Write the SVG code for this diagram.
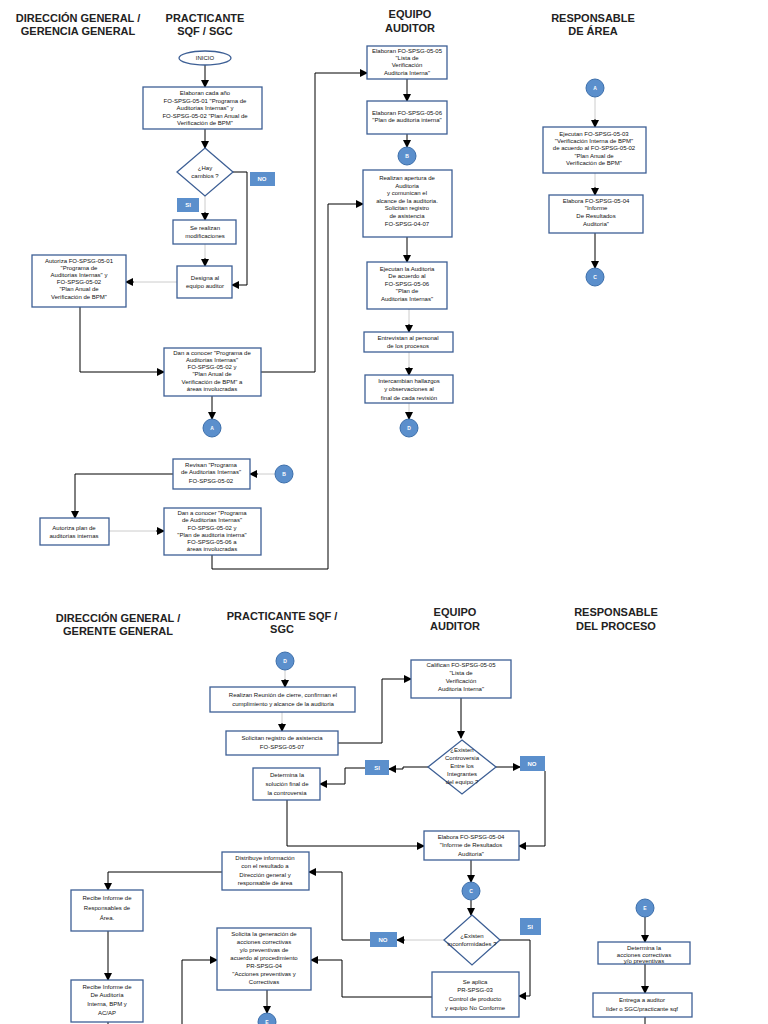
<svg xmlns="http://www.w3.org/2000/svg" width="768" height="1024" viewBox="0 0 768 1024">
<style>
.h{font-family:"Liberation Sans",Arial,sans-serif;font-weight:bold;font-size:11px;fill:#222;text-anchor:middle}
.t{font-family:"Liberation Sans",Arial,sans-serif;font-size:6px;fill:#111;text-anchor:middle}
.b{fill:#fff;stroke:#3d5f95;stroke-width:1.3}
.c{fill:#5b8fcc;stroke:#3d6fab;stroke-width:1}
.l{fill:#5b8fcc}
.lt{font-family:"Liberation Sans",Arial,sans-serif;font-weight:bold;font-size:6px;fill:#fff;text-anchor:middle}
.ct{font-family:"Liberation Sans",Arial,sans-serif;font-weight:bold;font-size:5px;fill:#fff;text-anchor:middle}
.k{fill:none;stroke:#000;stroke-width:1}
.g{fill:none;stroke:#ccc;stroke-width:1}
</style>
<defs><marker id="a" markerWidth="8" markerHeight="8" refX="7" refY="4" orient="auto" markerUnits="userSpaceOnUse"><path d="M0,0L8,4L0,8z" fill="#000"/></marker></defs>
<g id="headers">
<text class="h" x="78" y="22">DIRECCIÓN GENERAL /</text><text class="h" x="78" y="35">GERENCIA GENERAL</text>
<text class="h" x="205" y="22">PRACTICANTE</text><text class="h" x="205" y="35">SQF / SGC</text>
<text class="h" x="410" y="18">EQUIPO</text><text class="h" x="410" y="32">AUDITOR</text>
<text class="h" x="593" y="22">RESPONSABLE</text><text class="h" x="593" y="35">DE ÁREA</text>
<text class="h" x="118" y="622">DIRECCIÓN GENERAL /</text><text class="h" x="118" y="635">GERENTE GENERAL</text>
<text class="h" x="282" y="620">PRACTICANTE SQF /</text><text class="h" x="282" y="633">SGC</text>
<text class="h" x="455" y="616">EQUIPO</text><text class="h" x="455" y="630">AUDITOR</text>
<text class="h" x="616" y="616">RESPONSABLE</text><text class="h" x="616" y="630">DEL PROCESO</text>
</g>
<g id="connectors">
<path class="k" d="M205,65V87" marker-end="url(#a)"/>
<path class="k" d="M205,129V148" marker-end="url(#a)"/>
<path class="k" d="M233,172H247V285H232" marker-end="url(#a)"/>
<path class="g" d="M205,196V220"/><path class="k" d="M205,212V220" marker-end="url(#a)"/>
<path class="g" d="M205,244V266"/><path class="k" d="M205,258V266" marker-end="url(#a)"/>
<path class="g" d="M177,282H134"/><path class="k" d="M134,282H126" marker-end="url(#a)"/>
<path class="k" d="M80,307V372H164" marker-end="url(#a)"/>
<path class="k" d="M212,396V419" marker-end="url(#a)"/>
<path class="k" d="M261,372H315V73H367" marker-end="url(#a)"/>
<path class="k" d="M407,79V101" marker-end="url(#a)"/>
<path class="k" d="M407,134V147" marker-end="url(#a)"/>
<path class="k" d="M212,555V569H328V204H363" marker-end="url(#a)"/>
<path class="k" d="M407,237V262" marker-end="url(#a)"/>
<path class="g" d="M409,309V332"/><path class="k" d="M409,324V332" marker-end="url(#a)"/>
<path class="g" d="M409,352V375"/><path class="k" d="M409,367V375" marker-end="url(#a)"/>
<path class="g" d="M409,403V419"/><path class="k" d="M409,412V419" marker-end="url(#a)"/>
<path class="g" d="M275,474H258"/><path class="k" d="M258,474H250" marker-end="url(#a)"/>
<path class="k" d="M173,474H75V518" marker-end="url(#a)"/>
<path class="g" d="M109,531H156"/><path class="k" d="M156,531H164" marker-end="url(#a)"/>
<path class="g" d="M595,97V127"/><path class="k" d="M595,119V127" marker-end="url(#a)"/>
<path class="g" d="M595,173V195"/><path class="k" d="M595,187V195" marker-end="url(#a)"/>
<path class="k" d="M595,233V268" marker-end="url(#a)"/>
<path class="g" d="M285,670V687"/><path class="k" d="M285,679V687" marker-end="url(#a)"/>
<path class="g" d="M282,712V731"/><path class="k" d="M282,723V731" marker-end="url(#a)"/>
<path class="k" d="M338,743H382V679H411" marker-end="url(#a)"/>
<path class="k" d="M461,698V738" marker-end="url(#a)"/>
<path class="k" d="M428,767H403V769H389" marker-end="url(#a)"/>
<path class="k" d="M365,768H345V784H320" marker-end="url(#a)"/>
<path class="k" d="M496,767H520" marker-end="url(#a)"/>
<path class="k" d="M287,800V846H424" marker-end="url(#a)"/>
<path class="k" d="M545,771V846H519" marker-end="url(#a)"/>
<path class="k" d="M471,860V882" marker-end="url(#a)"/>
<path class="k" d="M471,900V915" marker-end="url(#a)"/>
<path class="g" d="M444,940H405"/><path class="k" d="M405,940H397" marker-end="url(#a)"/>
<path class="k" d="M370,940H342V872H309" marker-end="url(#a)"/>
<path class="k" d="M222,872H108V890" marker-end="url(#a)"/>
<path class="k" d="M500,940H530V996H519" marker-end="url(#a)"/>
<path class="k" d="M432,997H342V960H311" marker-end="url(#a)"/>
<path class="k" d="M108,931V980" marker-end="url(#a)"/>
<path class="k" d="M108,1022V1024"/>
<path class="k" d="M182,1024V960H217" marker-end="url(#a)"/>
<path class="k" d="M267,990V1013" marker-end="url(#a)"/>
<path class="k" d="M645,917V942" marker-end="url(#a)"/>
<path class="k" d="M645,964V993" marker-end="url(#a)"/>
<path class="k" d="M645,1017V1024"/>
</g>
<g id="inicio"><ellipse cx="205" cy="58" rx="26" ry="7" class="b"/><text class="t" x="205" y="60">INICIO</text></g>
<g id="n1"><rect class="b" x="143" y="87" width="119" height="42"/><text class="t" x="205" y="95">Elaboran cada año</text><text class="t" x="205" y="103">FO-SPSG-05-01 "Programa de</text><text class="t" x="205" y="110">Auditorias Internas" y</text><text class="t" x="205" y="118">FO-SPSG-05-02 "Plan Anual de</text><text class="t" x="205" y="125">Verificación de BPM"</text></g>
<g id="d1"><path class="b" d="M205,148L233,172L205,196L177,172z"/><text class="t" x="205" y="170">¿Hay</text><text class="t" x="205" y="178">cambios ?</text></g>
<g id="no1"><rect class="l" x="250" y="172" width="25" height="14"/><text class="lt" x="262" y="181">NO</text></g>
<g id="si1"><rect class="l" x="177" y="198" width="22" height="14"/><text class="lt" x="188" y="207">SI</text></g>
<g id="n2"><rect class="b" x="173" y="220" width="63" height="24"/><text class="t" x="205" y="230">Se realizan</text><text class="t" x="205" y="238">modificaciones</text></g>
<g id="n3"><rect class="b" x="177" y="266" width="55" height="32"/><text class="t" x="205" y="280">Designa al</text><text class="t" x="205" y="288">equipo auditor</text></g>
<g id="n4"><rect class="b" x="32" y="255" width="94" height="52"/><text class="t" x="79" y="263">Autoriza FO-SPSG-05-01</text><text class="t" x="79" y="270">"Programa de</text><text class="t" x="79" y="277">Auditorias Internas"  y</text><text class="t" x="79" y="284">FO-SPSG-05-02</text><text class="t" x="79" y="291">"Plan Anual de</text><text class="t" x="79" y="299">Verificación de BPM"</text></g>
<g id="n5"><rect class="b" x="164" y="348" width="97" height="48"/><text class="t" x="212" y="355">Dan a conocer "Programa de</text><text class="t" x="212" y="362">Auditorias Internas"</text><text class="t" x="212" y="369">FO-SPSG-05-02 y</text><text class="t" x="212" y="376">"Plan Anual de</text><text class="t" x="212" y="384">Verificación de BPM" a</text><text class="t" x="212" y="391">áreas involucradas</text></g>
<g id="ca1"><circle class="c" cx="212" cy="428" r="9"/><text class="ct" x="212" y="430">A</text></g>
<g id="n6"><rect class="b" x="173" y="459" width="77" height="30"/><text class="t" x="211" y="467">Revisan "Programa</text><text class="t" x="211" y="474">de Auditorias Internas"</text><text class="t" x="211" y="483">FO-SPSG-05-02</text></g>
<g id="cb2"><circle class="c" cx="284" cy="474" r="9"/><text class="ct" x="284" y="476">B</text></g>
<g id="n7"><rect class="b" x="40" y="518" width="69" height="27"/><text class="t" x="74" y="530">Autoriza plan de</text><text class="t" x="74" y="538">auditorias internas</text></g>
<g id="n8"><rect class="b" x="164" y="508" width="97" height="47"/><text class="t" x="212" y="515">Dan a conocer "Programa</text><text class="t" x="212" y="522">de Auditorias Internas"</text><text class="t" x="212" y="530">FO-SPSG-05-02 y</text><text class="t" x="212" y="537">"Plan de auditoria interna"</text><text class="t" x="212" y="544">FO-SPSG-05-06 a</text><text class="t" x="212" y="551">áreas involucradas</text></g>
<g id="e1"><rect class="b" x="367" y="46" width="80" height="33"/><text class="t" x="407" y="53">Elaboran FO-SPSG-05-05</text><text class="t" x="407" y="60">"Lista de</text><text class="t" x="407" y="67">Verificación</text><text class="t" x="407" y="75">Auditoria Interna"</text></g>
<g id="e2"><rect class="b" x="367" y="101" width="80" height="33"/><text class="t" x="407" y="115">Elaboran FO-SPSG-05-06</text><text class="t" x="407" y="122">"Plan de auditoria interna"</text></g>
<g id="cb1"><circle class="c" cx="407" cy="156" r="9"/><text class="ct" x="407" y="158">B</text></g>
<g id="e3"><rect class="b" x="363" y="170" width="89" height="67"/><text class="t" x="407" y="180">Realizan apertura de</text><text class="t" x="407" y="188">Auditoria</text><text class="t" x="407" y="195">y comunican el</text><text class="t" x="407" y="203">alcance de la auditoria.</text><text class="t" x="407" y="210">Solicitan registro</text><text class="t" x="407" y="218">de asistencia</text><text class="t" x="407" y="226">FO-SPSG-04-07</text></g>
<g id="e4"><rect class="b" x="367" y="262" width="80" height="47"/><text class="t" x="407" y="271">Ejecutan la Auditoria</text><text class="t" x="407" y="278">De acuerdo al</text><text class="t" x="407" y="286">FO-SPSG-05-06</text><text class="t" x="407" y="293">"Plan de</text><text class="t" x="407" y="301">Auditorias Internas"</text></g>
<g id="e5"><rect class="b" x="364" y="332" width="89" height="20"/><text class="t" x="408" y="340">Entrevistan al personal</text><text class="t" x="408" y="348">de los procesos</text></g>
<g id="e6"><rect class="b" x="365" y="375" width="88" height="28"/><text class="t" x="409" y="383">Intercambian hallazgos</text><text class="t" x="409" y="391">y observaciones al</text><text class="t" x="409" y="400">final de cada revisión</text></g>
<g id="cd1"><circle class="c" cx="409" cy="428" r="9"/><text class="ct" x="409" y="430">D</text></g>
<g id="ca2"><circle class="c" cx="595" cy="88" r="9"/><text class="ct" x="595" y="90">A</text></g>
<g id="r1"><rect class="b" x="543" y="127" width="103" height="46"/><text class="t" x="594" y="136">Ejecutan FO-SPSG-05-03</text><text class="t" x="594" y="143">"Verificación Interna de BPM"</text><text class="t" x="594" y="150">de acuerdo al FO-SPSG-05-02</text><text class="t" x="594" y="158">"Plan Anual de</text><text class="t" x="594" y="165">Verificación de BPM"</text></g>
<g id="r2"><rect class="b" x="549" y="195" width="94" height="38"/><text class="t" x="596" y="203">Elabora FO-SPSG-05-04</text><text class="t" x="596" y="210">"Informe</text><text class="t" x="596" y="218">De Resultados</text><text class="t" x="596" y="226">Auditoria"</text></g>
<g id="cc1"><circle class="c" cx="595" cy="277" r="9"/><text class="ct" x="595" y="279">C</text></g>
<g id="cd2"><circle class="c" cx="285" cy="661" r="9"/><text class="ct" x="285" y="663">D</text></g>
<g id="p1"><rect class="b" x="210" y="687" width="145" height="25"/><text class="t" x="283" y="697">Realizan Reunión de cierre, confirman el</text><text class="t" x="283" y="706">cumplimiento y alcance de la auditoria</text></g>
<g id="p2"><rect class="b" x="226" y="731" width="112" height="24"/><text class="t" x="282" y="740">Solicitan registro de asistencia</text><text class="t" x="282" y="749">FO-SPSG-05-07</text></g>
<g id="q1"><rect class="b" x="411" y="660" width="100" height="38"/><text class="t" x="461" y="667">Califican  FO-SPSG-05-05</text><text class="t" x="461" y="675">"Lista de</text><text class="t" x="461" y="683">Verificación</text><text class="t" x="461" y="691">Auditoria Interna"</text></g>
<g id="d2"><path class="b" d="M462,740L496,767L462,794L428,767z"/><text class="t" x="462" y="752">¿Existen</text><text class="t" x="462" y="760">Controversia</text><text class="t" x="462" y="768">Entre los</text><text class="t" x="462" y="776">Integrantes</text><text class="t" x="462" y="784">del equipo ?</text></g>
<g id="si2"><rect class="l" x="365" y="760" width="24" height="15"/><text class="lt" x="377" y="770">SI</text></g>
<g id="no2"><rect class="l" x="520" y="756" width="25" height="15"/><text class="lt" x="532" y="766">NO</text></g>
<g id="p3"><rect class="b" x="253" y="768" width="67" height="32"/><text class="t" x="287" y="777">Determina la</text><text class="t" x="287" y="786">solución final de</text><text class="t" x="287" y="795">la controversia</text></g>
<g id="q2"><rect class="b" x="424" y="831" width="95" height="29"/><text class="t" x="471" y="839">Elabora  FO-SPSG-05-04</text><text class="t" x="471" y="847">"Informe de Resultados</text><text class="t" x="471" y="856">Auditoria"</text></g>
<g id="cc2"><circle class="c" cx="471" cy="891" r="9"/><text class="ct" x="471" y="893">C</text></g>
<g id="d3"><path class="b" d="M472,915L500,940L472,965L444,940z"/><text class="t" x="472" y="938">¿Existen</text><text class="t" x="472" y="946">inconformidades ?</text></g>
<g id="si3"><rect class="l" x="520" y="918" width="21" height="17"/><text class="lt" x="530" y="929">SI</text></g>
<g id="no3"><rect class="l" x="370" y="932" width="27" height="15"/><text class="lt" x="383" y="942">NO</text></g>
<g id="p4"><rect class="b" x="222" y="852" width="87" height="38"/><text class="t" x="265" y="860">Distribuye información</text><text class="t" x="265" y="868">con el resultado a</text><text class="t" x="265" y="877">Dirección general y</text><text class="t" x="265" y="885">responsable de área</text></g>
<g id="g1"><rect class="b" x="71" y="890" width="72" height="41"/><text class="t" x="107" y="900">Recibe Informe de</text><text class="t" x="107" y="910">Responsables de</text><text class="t" x="107" y="920">Área.</text></g>
<g id="p5"><rect class="b" x="217" y="928" width="94" height="62"/><text class="t" x="264" y="936">Solicita la generación de</text><text class="t" x="264" y="944">acciones correctivas</text><text class="t" x="264" y="952">y/o preventivas de</text><text class="t" x="264" y="960">acuerdo al procedimiento</text><text class="t" x="264" y="968">PR-SPSG-04</text><text class="t" x="264" y="976">"Acciones preventivas y</text><text class="t" x="264" y="984">Correctivas</text></g>
<g id="q3"><rect class="b" x="432" y="972" width="87" height="45"/><text class="t" x="475" y="984">Se aplica</text><text class="t" x="475" y="992">PR-SPSG-03</text><text class="t" x="475" y="1001">Control de producto</text><text class="t" x="475" y="1010">y equipo No Conforme</text></g>
<g id="g2"><rect class="b" x="71" y="980" width="72" height="42"/><text class="t" x="107" y="989">Recibe Informe de</text><text class="t" x="107" y="997">De Auditoría</text><text class="t" x="107" y="1006">Interna, BPM y</text><text class="t" x="107" y="1015">AC/AP</text></g>
<g id="ce1"><circle class="c" cx="267" cy="1022" r="9"/><text class="ct" x="267" y="1024">E</text></g>
<g id="ce2"><circle class="c" cx="645" cy="908" r="9"/><text class="ct" x="645" y="910">E</text></g>
<g id="s1"><rect class="b" x="598" y="942" width="92" height="22"/><text class="t" x="644" y="950">Determina la</text><text class="t" x="644" y="957">acciones correctivas</text><text class="t" x="644" y="963">y/o preventivas</text></g>
<g id="s2"><rect class="b" x="593" y="993" width="99" height="24"/><text class="t" x="642" y="1002">Entrega a auditor</text><text class="t" x="642" y="1011">líder o SGC/practicante sqf</text></g>
</svg>
